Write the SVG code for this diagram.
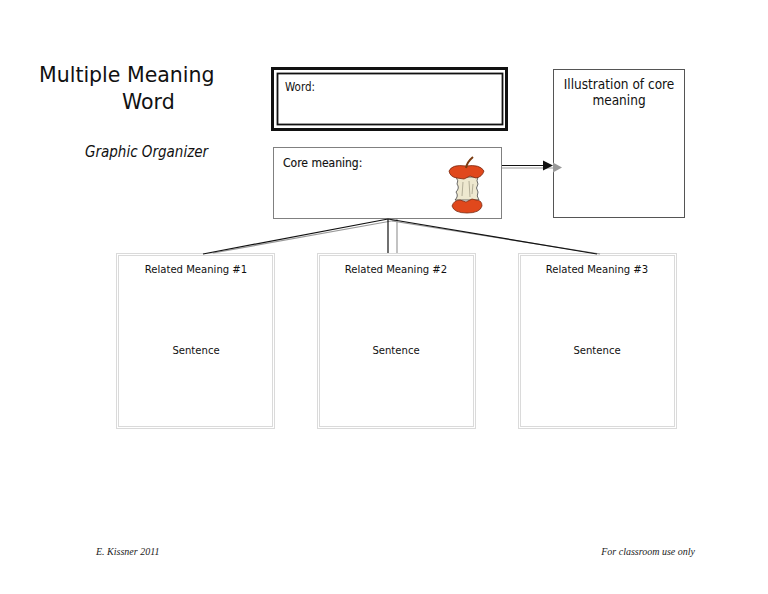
<svg xmlns="http://www.w3.org/2000/svg" width="768" height="594" viewBox="0 0 768 594">
<style>
.t{font-family:"DejaVu Sans Condensed","DejaVu Sans",sans-serif;fill:#111}
.title{font-family:"DejaVu Sans",sans-serif;font-size:20.5px;fill:#111}
.rel{font-size:11.2px}
.foot{font-family:"Liberation Serif",serif;font-style:italic;font-size:10px;fill:#222}
.rbox{fill:none;stroke:#dadada;stroke-width:1}
.blk{stroke:#111;stroke-width:1.2;fill:none}
.gry{stroke:#9a9a9a;stroke-width:1.2;fill:none}
</style>
<rect width="768" height="594" fill="#fff"/>

<g id="title">
<text class="title" x="39" y="82">Multiple Meaning</text>
<text class="title" x="122" y="109">Word</text>
<text class="t" x="85" y="157" font-size="15" font-style="italic">Graphic Organizer</text>
</g>

<g id="word">
<rect x="272.5" y="68.5" width="234" height="61" fill="#fff" stroke="#111" stroke-width="3"/>
<rect x="277.5" y="73.5" width="225" height="51" fill="none" stroke="#111" stroke-width="1.8"/>
<text class="t" x="285" y="91" font-size="11.5">Word:</text>
</g>

<g id="core">
<rect x="273.5" y="147.5" width="228" height="71" fill="#fff" stroke="#808080" stroke-width="1"/>
<text class="t" x="283" y="167" font-size="12" stroke="#111" stroke-width="0.15">Core meaning:</text>
<g id="apple">
<path d="M456,177 Q459,181 457,184 Q460,188 456,192 Q459,196 455,200 L479,200 Q476,196 478,192 Q475,188 478,184 Q476,181 478,177 Z" fill="#eee8cf" stroke="#444" stroke-width="0.8"/>
<path d="M463,182 L462,196 M469,181 L470,197 M473,184 L472,194" stroke="#8a8470" stroke-width="0.6"/>
<path d="M449,171 Q452,164 466,166 Q480,164 484,171 Q482,177 476,178 L470,176 L464,179 L457,178 Q450,177 449,171 Z" fill="#e0481c" stroke="#7a2a10" stroke-width="0.8"/>
<path d="M452,206 Q454,200 460,200 L466,202 L472,199 L476,200 Q482,200 482,206 Q480,213 467,213 Q454,213 452,206 Z" fill="#e0481c" stroke="#7a2a10" stroke-width="0.8"/>
<path d="M466,168 Q467,162 473,157" stroke="#7a3b10" stroke-width="2" fill="none"/>
</g>
</g>

<g id="illustration">
<rect x="553.5" y="69.5" width="131" height="148" fill="#fff" stroke="#555" stroke-width="1"/>
<text class="t" x="619" y="89" font-size="13.5" text-anchor="middle">Illustration of core</text>
<text class="t" x="619" y="105" font-size="13.5" text-anchor="middle">meaning</text>
</g>

<g id="related1">
<rect class="rbox" x="116.5" y="253.5" width="158" height="175"/>
<rect class="rbox" x="118.5" y="255.5" width="154" height="171"/>
<text class="t rel" x="196" y="273" text-anchor="middle">Related Meaning #1</text>
<text class="t rel" x="196" y="354" text-anchor="middle">Sentence</text>
</g>
<g id="related2">
<rect class="rbox" x="317.5" y="253.5" width="158" height="175"/>
<rect class="rbox" x="319.5" y="255.5" width="154" height="171"/>
<text class="t rel" x="396" y="273" text-anchor="middle">Related Meaning #2</text>
<text class="t rel" x="396" y="354" text-anchor="middle">Sentence</text>
</g>
<g id="related3">
<rect class="rbox" x="518.5" y="253.5" width="158" height="175"/>
<rect class="rbox" x="520.5" y="255.5" width="154" height="171"/>
<text class="t rel" x="597" y="273" text-anchor="middle">Related Meaning #3</text>
<text class="t rel" x="597" y="354" text-anchor="middle">Sentence</text>
</g>

<g id="connectors">
<line class="gry" x1="397" y1="220" x2="213" y2="253"/>
<line class="blk" x1="388" y1="219" x2="203" y2="254"/>
<line class="gry" x1="397" y1="219" x2="397" y2="253"/>
<line class="blk" x1="388" y1="219" x2="388" y2="253"/>
<line class="gry" x1="392" y1="221" x2="600" y2="254"/>
<line class="blk" x1="388" y1="219" x2="597" y2="254"/>
<line class="gry" x1="502" y1="168" x2="553" y2="168"/>
<line class="blk" x1="502" y1="165.5" x2="545" y2="165.5"/>
<polygon points="553,162.5 562,167.5 553,172.5" fill="#9a9a9a"/>
<polygon points="543,160.5 553,165.5 543,170.5" fill="#111"/>
</g>

<g id="footer">
<text class="foot" x="96" y="555">E. Kissner 2011</text>
<text class="foot" x="695" y="555" text-anchor="end">For classroom use only</text>
</g>
</svg>
